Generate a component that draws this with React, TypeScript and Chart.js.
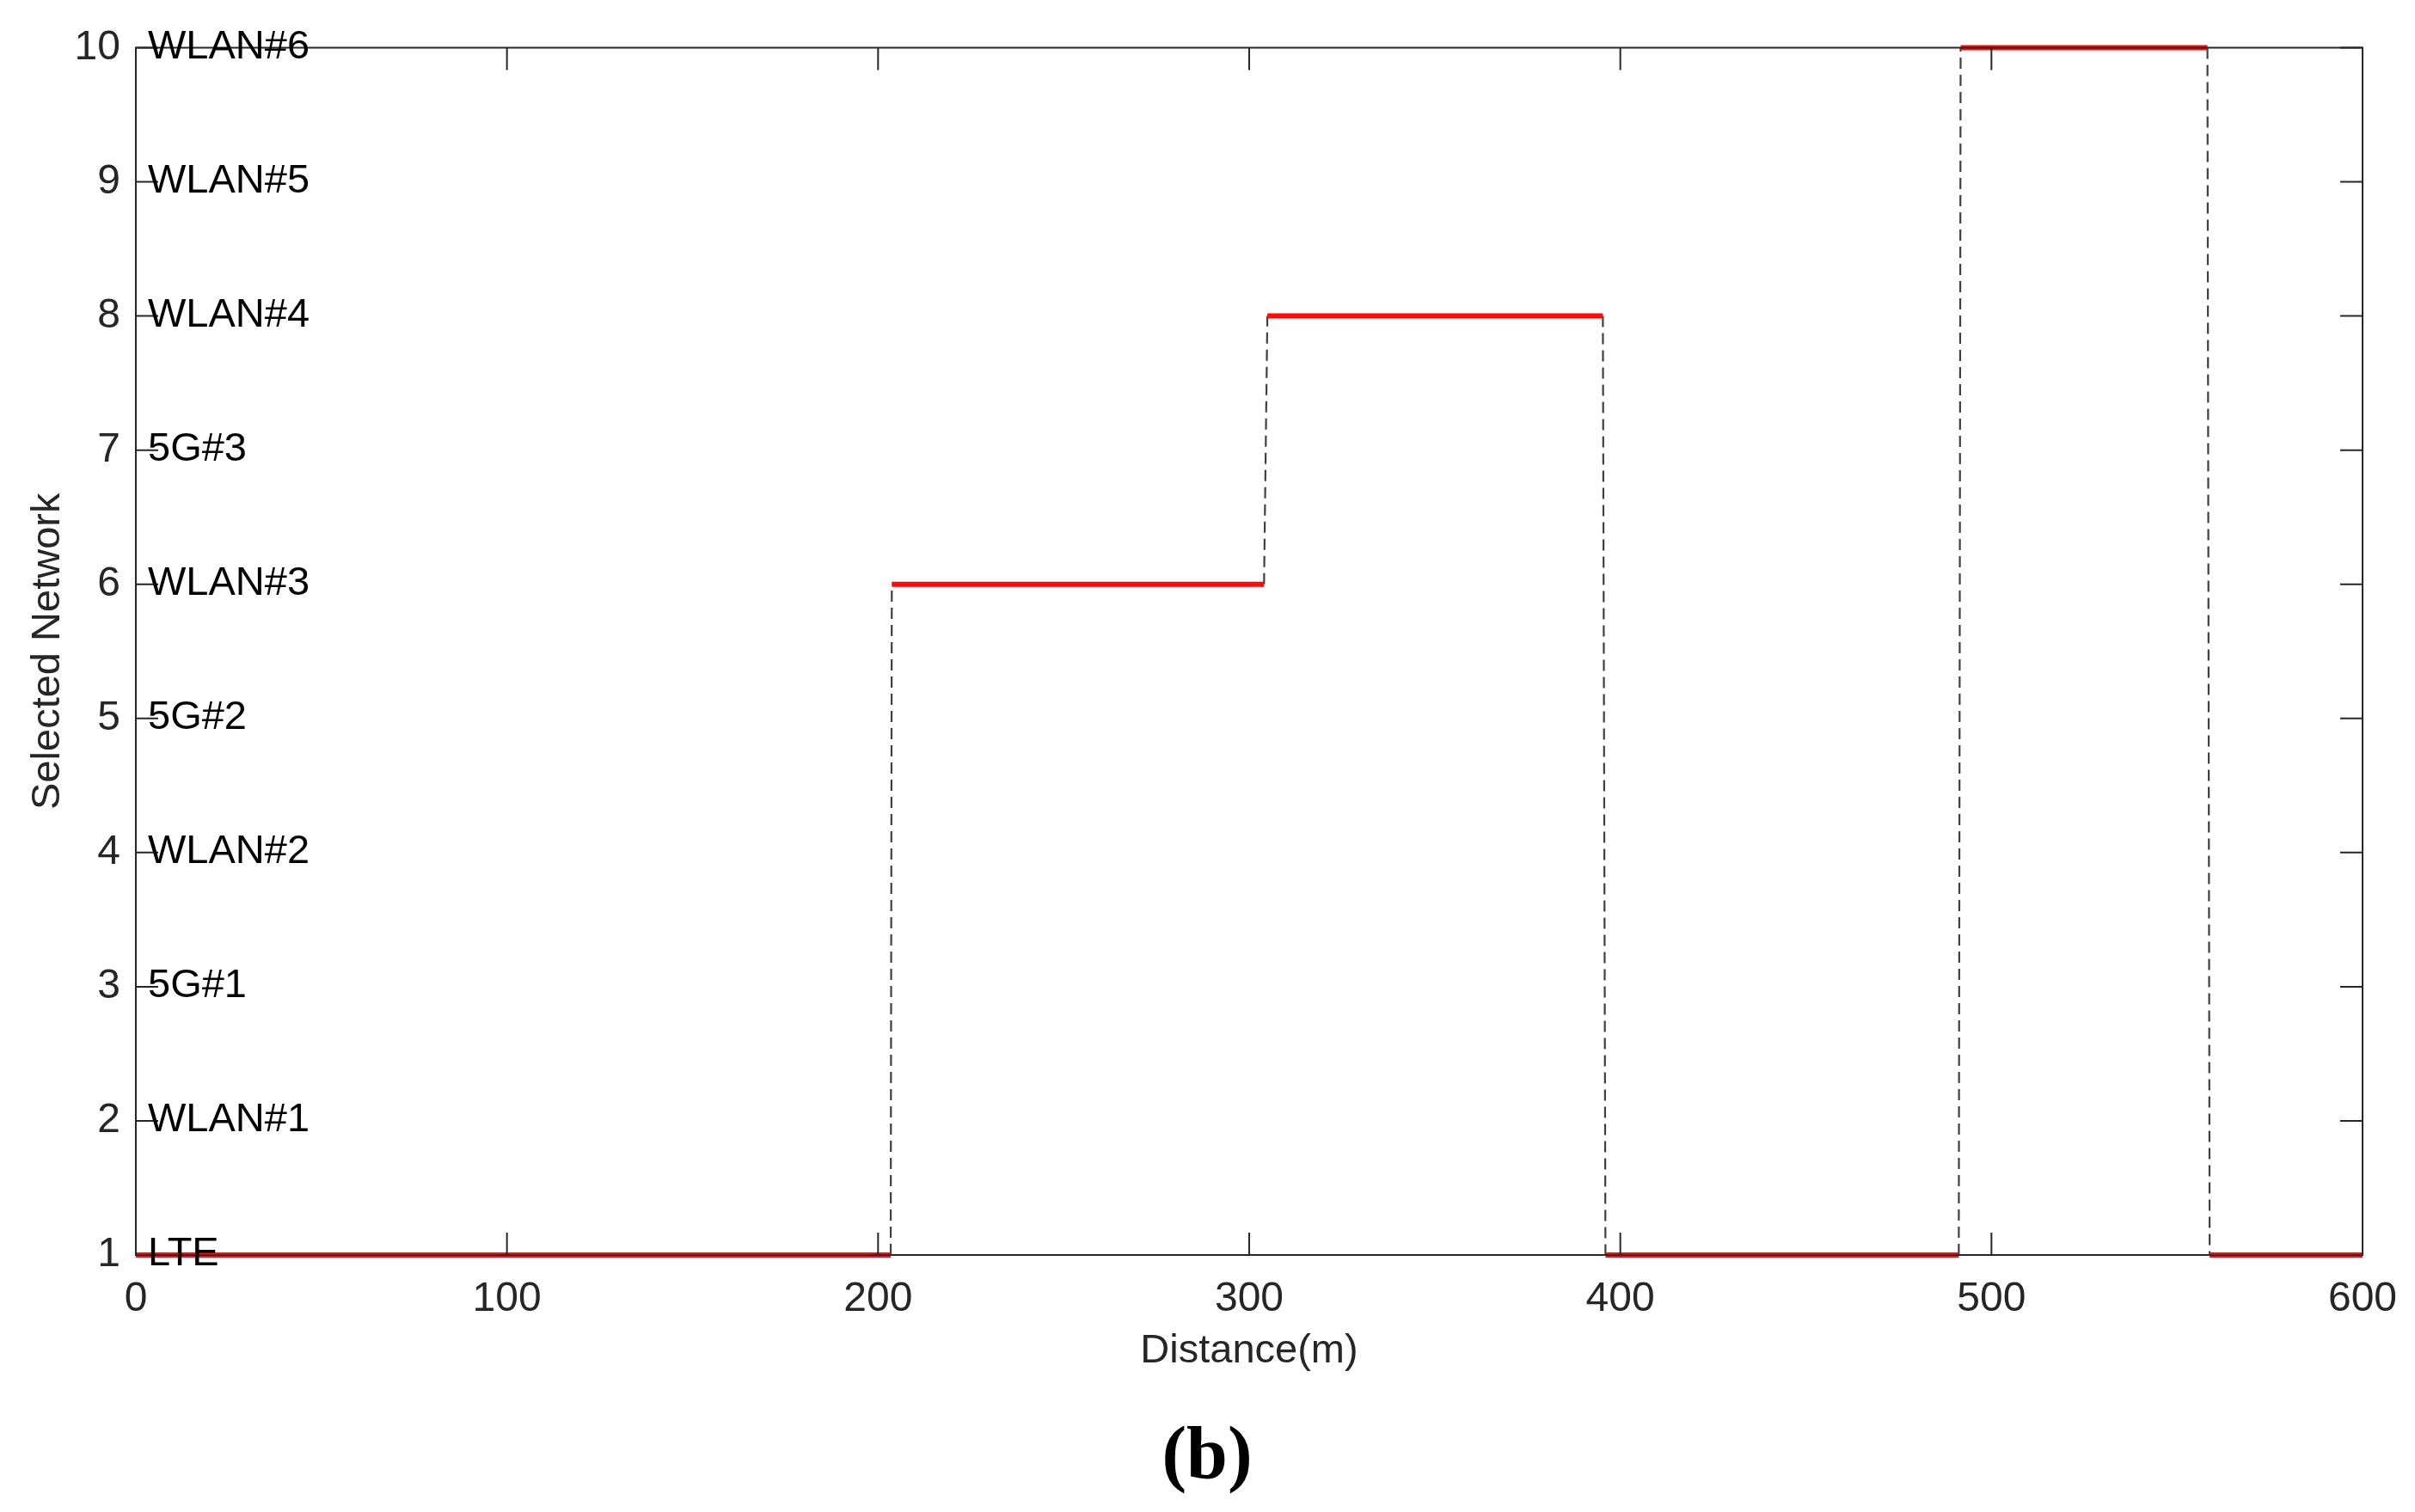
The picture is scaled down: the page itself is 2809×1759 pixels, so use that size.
import React, { useEffect, useRef } from "react";
import { Chart, registerables } from "chart.js";

Chart.register(...registerables);

// Selected network level for each segment along the route
const segLevels = [1, 6, 8, 1, 10, 1];
const segStart = [0, 203.7, 304.9, 396.0, 491.7, 558.8];
const segEnd = [203.4, 304.0, 395.3, 491.2, 558.2, 600];

// Network names for y values 1..10
const networkValues = [1, 2, 3, 4, 5, 6, 7, 8, 9, 10];
const networkNames = ["LTE", "WLAN#1", "5G#1", "WLAN#2", "5G#2", "WLAN#3", "5G#3", "WLAN#4", "WLAN#5", "WLAN#6"];

const xTitle = "Distance(m)";
const yTitle = "Selected Network";
const panelLabel = "(b)";

const W = 2809;
const H = 1759;
const FONT = '"Liberation Sans", Arial, Helvetica, sans-serif';

export default function App() {
  const ref = useRef<HTMLCanvasElement | null>(null);

  useEffect(() => {
    const canvas = ref.current;
    if (!canvas) return;

    const redData: any[] = [];
    segLevels.forEach((lv, i) => {
      redData.push({ x: segStart[i], y: lv });
      redData.push({ x: segEnd[i], y: lv });
      redData.push({ x: segEnd[i], y: null });
    });
    const dashData: any[] = [];
    for (let i = 0; i < segLevels.length - 1; i++) {
      dashData.push({ x: segEnd[i], y: segLevels[i] });
      dashData.push({ x: segStart[i + 1], y: segLevels[i + 1] });
      dashData.push({ x: segStart[i + 1], y: null });
    }

    const boxPlugin = {
      id: "boxPlugin",
      afterDatasetsDraw(chart: any) {
        const { ctx, chartArea: a, scales } = chart;
        const xs = scales.x;
        const ys = scales.y;
        const tl = 26;
        ctx.save();
        ctx.strokeStyle = "#262626";
        ctx.lineWidth = 2;
        ctx.beginPath();
        ctx.rect(a.left, a.top, a.right - a.left, a.bottom - a.top);
        ctx.stroke();
        ctx.beginPath();
        xs.ticks.forEach((t: any) => {
          const px = xs.getPixelForValue(t.value);
          ctx.moveTo(px, a.bottom);
          ctx.lineTo(px, a.bottom - tl);
          ctx.moveTo(px, a.top);
          ctx.lineTo(px, a.top + tl);
        });
        ys.ticks.forEach((t: any) => {
          const py = ys.getPixelForValue(t.value);
          ctx.moveTo(a.left, py);
          ctx.lineTo(a.left + tl, py);
          ctx.moveTo(a.right, py);
          ctx.lineTo(a.right - tl, py);
        });
        ctx.stroke();

        // network names inside the plot
        ctx.fillStyle = "#000000";
        ctx.font = `47px ${FONT}`;
        ctx.textAlign = "left";
        ctx.textBaseline = "alphabetic";
        networkValues.forEach((v, i) => {
          const py = ys.getPixelForValue(v);
          ctx.fillText(networkNames[i], a.left + 14, py + 12);
        });
        ctx.restore();
      },
      afterDraw(chart: any) {
        const { ctx } = chart;
        ctx.save();
        ctx.fillStyle = "#000000";
        ctx.font = 'bold 86px "Liberation Serif", "Times New Roman", serif';
        ctx.textAlign = "center";
        ctx.textBaseline = "middle";
        ctx.fillText(panelLabel, 1404, 1697);
        ctx.restore();
      },
    };

    const chart = new Chart(canvas, {
      type: "line",
      data: {
        datasets: [
          {
            data: redData,
            borderColor: "#ff0a0a",
            borderWidth: 6,
            pointRadius: 0,
            spanGaps: false,
            clip: false as any,
            tension: 0,
          },
          {
            data: dashData,
            borderColor: "#404040",
            borderWidth: 2.2,
            borderDash: [13, 7],
            pointRadius: 0,
            spanGaps: false,
            clip: false as any,
            tension: 0,
          },
        ],
      },
      options: {
        animation: false,
        responsive: false,
        devicePixelRatio: 1,
        layout: { padding: { left: 33, right: 61, top: 55.5, bottom: 163.5 } },
        plugins: { legend: { display: false }, tooltip: { enabled: false } },
        scales: {
          x: {
            type: "linear",
            min: 0,
            max: 600,
            grid: { display: false, drawTicks: false },
            border: { display: false },
            ticks: {
              stepSize: 100,
              padding: 28,
              color: "#262626",
              font: { family: FONT, size: 48, lineHeight: 1 },
              maxRotation: 0,
            },
            title: {
              display: true,
              text: xTitle,
              color: "#262626",
              padding: 0,
              font: { family: FONT, size: 47, lineHeight: 1 },
            },
            afterFit(scale: any) {
              scale.height = 135.5;
              scale.paddingLeft = 0;
              scale.paddingRight = 0;
            },
          },
          y: {
            type: "linear",
            min: 1,
            max: 10,
            grid: { display: false, drawTicks: false },
            border: { display: false },
            ticks: {
              stepSize: 1,
              padding: 18,
              color: "#262626",
              font: { family: FONT, size: 48, lineHeight: 1 },
            },
            title: {
              display: true,
              text: yTitle,
              color: "#262626",
              padding: 0,
              font: { family: FONT, size: 47, lineHeight: 1 },
            },
            afterFit(scale: any) {
              scale.width = 125;
              scale.paddingTop = 0;
              scale.paddingBottom = 0;
            },
          },
        },
      },
      plugins: [boxPlugin],
    });

    return () => chart.destroy();
  }, []);

  return (
    <div style={{ position: "fixed", left: 0, top: 0, width: W, height: H, background: "#ffffff" }}>
      <canvas ref={ref} width={W} height={H} style={{ display: "block", width: W, height: H }} />
    </div>
  );
}
